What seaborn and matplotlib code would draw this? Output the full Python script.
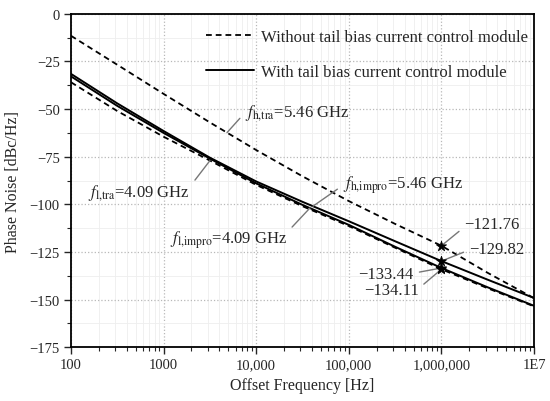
import numpy as np
import pandas as pd
import seaborn as sns
import matplotlib.pyplot as plt
from matplotlib.ticker import FixedLocator, LogLocator, MultipleLocator, NullFormatter

sns.set_style('white')
plt.rcParams['font.family'] = ['Liberation Serif', 'DejaVu Serif']
plt.rcParams['mathtext.fontset'] = 'stix'

# Data (offset frequency in Hz, phase noise in dBc/Hz)
freq = [100, 316, 1000, 3162, 10000, 31623, 100000, 316228, 1000000, 3162278, 10000000]
pn_h_without = [-11.5, -26.7, -42.0, -57.0, -71.5, -85.3, -98.3, -110.3, -121.76, -136.0, -149.3]
pn_h_with = [-31.5, -47.0, -61.5, -75.5, -88.0, -98.7, -108.9, -119.4, -129.82, -139.6, -149.2]
pn_l_with = [-32.8, -48.3, -62.5, -76.0, -89.0, -100.3, -110.8, -122.3, -133.44, -143.6, -153.3]
pn_l_without = [-35.9, -51.0, -64.5, -77.0, -89.8, -101.0, -111.4, -122.8, -134.11, -144.1, -153.6]

star_freq = 1000000
star_pn = [-121.76, -129.82, -133.44, -134.11]

xtick_vals = [100, 1000, 10000, 100000, 1000000, 10000000]
xtick_labels = ['100', '1000', '10,000', '100,000', '1,000,000', '1E7']

legend_labels = ['Without tail bias current control module',
                 'With tail bias current control module']


def on_curve(pn, f):
    return np.interp(np.log10(f), np.log10(freq), pn)


fig, ax = plt.subplots(figsize=(5.5, 4.02), dpi=100)
fig.subplots_adjust(left=0.129, right=0.971, top=0.963, bottom=0.134)

dash = (3.2, 2.2)
sns.lineplot(x=freq, y=pn_h_without, ax=ax, color='black', lw=1.3,
             label=legend_labels[0]).lines[-1].set_dashes(dash)
sns.lineplot(x=freq, y=pn_l_without, ax=ax, color='black', lw=1.3).lines[-1].set_dashes(dash)
sns.lineplot(x=freq, y=pn_h_with, ax=ax, color='black', lw=1.4, label=legend_labels[1])
sns.lineplot(x=freq, y=pn_l_with, ax=ax, color='black', lw=1.4)

sns.scatterplot(x=[star_freq] * len(star_pn), y=star_pn, ax=ax, marker='*', s=60,
                color='black', edgecolor='black', linewidth=0.5, zorder=5)

ax.set_xscale('log')
ax.set_xlim(100, 1e7)
ax.set_ylim(-175, 0)
ax.xaxis.set_major_locator(FixedLocator(xtick_vals))
ax.set_xticklabels(xtick_labels)
ax.xaxis.set_minor_locator(LogLocator(base=10, subs=np.arange(2, 10)))
ax.xaxis.set_minor_formatter(NullFormatter())
ax.yaxis.set_major_locator(MultipleLocator(25))
ax.yaxis.set_minor_locator(MultipleLocator(12.5))
ax.set_yticklabels([f'{int(v)}'.replace('-', '\u2212') for v in ax.get_yticks()])

ax.grid(which='major', color='#b8b8b8', linestyle=':', lw=0.9)
ax.grid(which='minor', color='#eeeeee', linestyle='-', lw=0.6)
ax.set_axisbelow(True)
for s in ax.spines.values():
    s.set_color('black')
    s.set_linewidth(1.3)
ax.tick_params(which='major', direction='out', length=5, width=1, labelsize=10.5,
               bottom=True, left=True, pad=3)
ax.tick_params(which='minor', direction='out', length=3, width=0.8, bottom=True, left=True)

ax.set_xlabel('Offset Frequency [Hz]', fontsize=11.5, labelpad=4)
ax.set_ylabel('Phase Noise [dBc/Hz]', fontsize=11.5, labelpad=6)

ax.legend(loc='upper right', bbox_to_anchor=(1.019, 1.0), frameon=False, fontsize=12,
          handlelength=2.9, handletextpad=0.4, labelspacing=1.15)

lead = dict(arrowstyle='-', color='#777777', lw=1.0, shrinkA=2, shrinkB=0)
notes = [
    (r'$f_{\mathrm{h{,}tra}}$=5.46 GHz', pn_h_without, 4840, (18, 21), 'left', (0, 0.45)),
    (r'$f_{\mathrm{l{,}tra}}$=4.09 GHz', pn_l_without, 3170, (-20, -31), 'right', (1, 0.75)),
    (r'$f_{\mathrm{h{,}impro}}$=5.46 GHz', pn_h_with, 41000, (30, 22), 'left', (0, 0.45)),
    (r'$f_{\mathrm{l{,}impro}}$=4.09 GHz', pn_l_with, 38000, (-23, -31), 'right', (1, 0.8)),
]
for txt, pn, f, off, ha, rp in notes:
    ax.annotate(txt, xy=(f, on_curve(pn, f)), xytext=off, textcoords='offset pixels',
                ha=ha, va='center', fontsize=12, arrowprops=dict(lead, relpos=rp))

star_offsets = [((23, 22), 'left', (0, 0.3)), ((28, 12), 'left', (0, 0.45)),
                ((-28, -6), 'right', (1, 0.55)), ((-23, -21), 'right', (1, 0.6))]
for v, (off, ha, rp) in zip(star_pn, star_offsets):
    ax.annotate(f'{v:.2f}'.replace('-', '\u2212'), xy=(star_freq, v), xytext=off,
                textcoords='offset pixels', ha=ha, va='center', fontsize=12,
                arrowprops=dict(lead, relpos=rp))

fig.savefig('out.png', dpi=100)
